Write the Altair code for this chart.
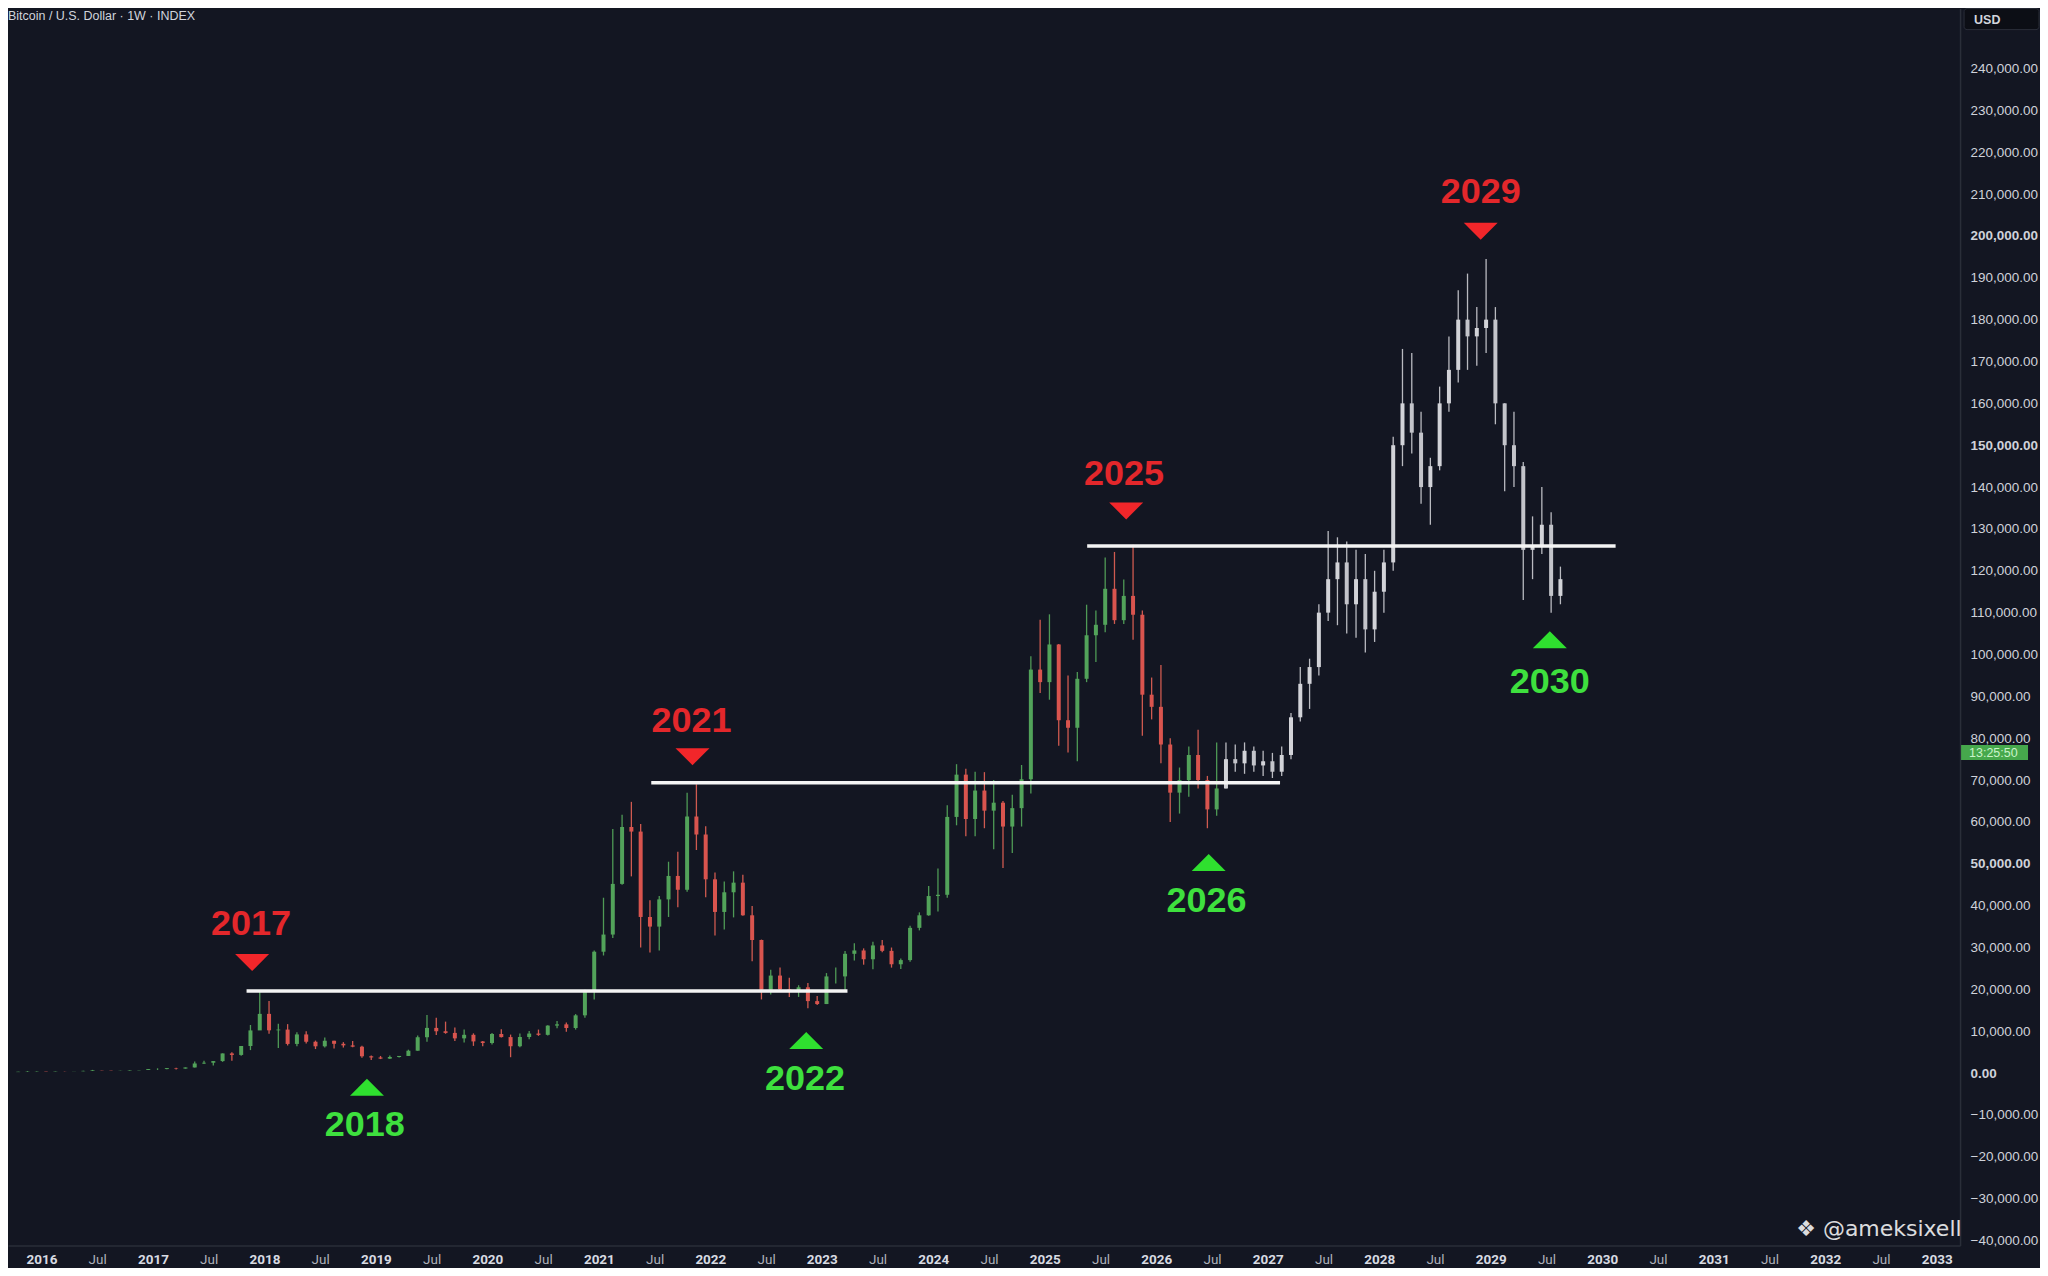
import altair as alt
import pandas as pd

# ---------------- data (monthly candles) ----------------
real_start = "2015-10"
high_real = [
    330, 495, 466,
    460, 440, 440, 466, 545, 770, 700, 627, 625, 720, 755, 980,
    1150, 1200, 1290, 1350, 2760, 2980, 2900, 4700, 4980, 6470, 11500, 19700,
    17200, 11800, 11700, 9750, 9990, 7770, 8500, 7750, 7400, 7680, 6550, 4200,
    4100, 4200, 4100, 5600, 9000, 13900, 13200, 12300, 10900, 10400, 9500, 7700,
    9600, 10500, 9200, 9450, 10070, 10400, 11450, 12470, 12100, 14100, 19900, 29300,
    41900, 58300, 61700, 64800, 59500, 41300, 42300, 50500, 52900, 67000, 69000, 59000,
    47900, 45800, 48200, 47400, 39900, 31900, 24700, 25200, 22800, 21000, 21500, 18400,
    23900, 25200, 29200, 31000, 29800, 31400, 31800, 30000, 27400, 35200, 38400, 44700,
    48900, 64000, 73800, 72700, 72000, 71900, 70000, 65000, 66500, 73600, 99600, 108300,
    109600, 102500, 95000, 95800, 111900, 110500, 123200, 124500, 117900, 126200, 110500, 94500,
    97500, 80000, 73000, 78000, 82000, 71000, 79000,
]
low_real = [
    237, 300, 350,
    355, 365, 400, 415, 435, 530, 600, 535, 570, 605, 690, 745,
    750, 940, 890, 1080, 1350, 2200, 1830, 2700, 2970, 4160, 5500, 10700,
    9400, 6000, 6600, 6430, 7060, 5750, 6100, 5880, 6100, 6200, 3650, 3130,
    3350, 3390, 3700, 4080, 5320, 7500, 9100, 9400, 7700, 7300, 6500, 6430,
    6850, 8500, 3800, 6150, 8100, 8900, 8980, 10700, 9900, 10400, 13200, 17600,
    28100, 32300, 45000, 47000, 30000, 28800, 29300, 37300, 39600, 43300, 53300, 42000,
    32900, 34300, 37200, 37600, 26700, 17600, 18800, 19600, 18200, 18200, 15500, 16300,
    16500, 21400, 19600, 26900, 25900, 24800, 28900, 25200, 24900, 26600, 34100, 37600,
    38600, 41900, 59200, 56600, 56600, 58500, 53500, 49000, 52600, 58900, 66800, 90800,
    89200, 78200, 76600, 74500, 93400, 98200, 105300, 107300, 107300, 103500, 80600, 84500,
    74000, 60000, 62000, 66000, 68000, 58500, 61500,
]
close_real = [
    314, 378, 430,
    369, 436, 416, 448, 531, 673, 624, 575, 609, 700, 745, 964,
    970, 1190, 1080, 1350, 2300, 2480, 2875, 4700, 4340, 6470, 10200, 14150,
    10220, 10400, 6970, 9240, 7490, 6400, 7730, 7000, 6625, 6310, 4020, 3740,
    3460, 3850, 4100, 5350, 8570, 10800, 10000, 9600, 8300, 9150, 7570, 7190,
    9350, 8600, 6420, 8620, 9450, 9140, 11350, 11650, 10780, 13800, 19700, 29000,
    33100, 45200, 58800, 57700, 37300, 35000, 41500, 47100, 43800, 61300, 57000, 46300,
    38500, 43200, 45500, 37700, 31800, 19900, 23300, 20000, 19400, 20500, 17200, 16500,
    23100, 23100, 28500, 29300, 27200, 30500, 29200, 26000, 27000, 34700, 37700, 42300,
    42600, 61200, 71300, 60700, 67500, 62700, 64600, 58900, 63300, 70200, 96400, 93400,
    102400, 84300, 82500, 94200, 104600, 107100, 115700, 108200, 114000, 109500, 90400, 87500,
    78500, 67000, 70000, 76000, 70000, 63000, 68000,
]

proj_start = "2026-08"
high_proj = [
    79000, 78500, 79000, 78000, 77000,
    76500, 78000, 86000, 97000, 99000, 112000, 129500, 128000, 127000, 125000, 124000, 120000,
    125000, 152000, 173000, 172000, 158000, 147000, 164000, 176000, 187000, 191000, 183000, 194500,
    183000, 160000, 158000, 146000, 133000, 140000, 134000, 121000,
]
low_proj = [
    68000, 72000, 71500, 72000, 71000,
    70500, 71000, 75000, 84000, 87000, 95000, 108000, 107000, 105000, 104000, 100500, 103000,
    110000, 120000, 145000, 148000, 136000, 131000, 144000, 158000, 165000, 168000, 169000, 172000,
    155000, 139000, 140000, 113000, 118000, 124000, 110000, 112000,
]
close_proj = [
    75000, 74000, 77000, 73500, 74500,
    72000, 76000, 85000, 93000, 97000, 110000, 118000, 122000, 112000, 118000, 106000, 115000,
    122000, 150000, 160000, 153000, 140000, 145000, 160000, 168000, 180000, 176000, 178000, 180000,
    160000, 150000, 145000, 125000, 126000, 131000, 114000, 118000,
]

# horizontal levels
level_price = [19640, 69350, 125900]
level_from = [2017.84, 2021.47, 2025.38]
level_to = [2023.23, 2027.11, 2030.12]

# cycle annotations
ann_label = ["2017", "2018", "2021", "2022", "2025", "2026", "2029", "2030"]
ann_kind = ["top", "bottom", "top", "bottom", "top", "bottom", "top", "bottom"]
ann_text_x = [2017.88, 2018.90, 2021.83, 2022.85, 2025.71, 2026.45, 2028.91, 2029.53]
ann_text_y = [35500, -12500, 84200, -1500, 143100, 41000, 210600, 93500]
tri_x = [2017.89, 2018.92, 2021.84, 2022.86, 2025.73, 2026.47, 2028.91, 2029.53]
tri_y = [26400, -3400, 75600, 7800, 134300, 50300, 201100, 103500]

y_ticks = list(range(-40000, 240001, 10000))
x_ticks = [2016 + 0.5 * i for i in range(35)]

# ---------------- tables ----------------
def candles(start, highs, lows, closes, first_open, up, down, wick_up, wick_down):
    per = pd.period_range(start=start, periods=len(closes), freq="M")
    t = [p.year + (p.month - 1) / 12 + 1 / 24 for p in per]
    opens = [first_open] + closes[:-1]
    body_c = [up if c >= o else down for o, c in zip(opens, closes)]
    wick_c = [wick_up if c >= o else wick_down for o, c in zip(opens, closes)]
    return pd.DataFrame({"t": t, "o": opens, "h": highs, "l": lows, "c": closes,
                         "bc": body_c, "wc": wick_c})

GREEN = "#52a35a"
RED = "#d9544e"
df_real = candles(real_start, high_real, low_real, close_real, 240, GREEN, RED, "#4f9a56", "#cf5a50")
df_proj = candles(proj_start, high_proj, low_proj, close_proj, close_real[-1],
                  "#d2d3d8", "#c3c4ca", "#b9bac0", "#b9bac0")

df_lv = pd.DataFrame({"p": level_price, "a": level_from, "b": level_to})
df_ann = pd.DataFrame({"lab": ann_label, "kind": ann_kind, "tx": ann_text_x, "ty": ann_text_y,
                       "px": tri_x, "py": tri_y})
df_ann["col"] = ["#e3272b" if k == "top" else "#3ee03e" for k in ann_kind]
one = pd.DataFrame({"a": [0]})

# ---------------- scales / axes ----------------
xs = alt.Scale(domain=[2015.745, 2033.165], nice=False, zero=False)
ys = alt.Scale(domain=[-41160, 254300], nice=False, zero=False)

xaxis = alt.Axis(
    values=x_ticks, title=None, grid=False, ticks=False,
    labelExpr="datum.value % 1 == 0 ? format(datum.value, 'd') : 'Jul'",
    labelFont="Roboto", labelFontSize=13.5, labelPadding=7,
    labelFontWeight={"condition": {"test": "datum.value % 1 == 0", "value": "bold"}, "value": "normal"},
    labelColor={"condition": {"test": "datum.value % 1 == 0", "value": "#d8dbe2"}, "value": "#aeb1ba"},
    labelOverlap=False, labelFlush=False,
    domainColor="#2a2e39", domainWidth=1.5,
)
yaxis = alt.Axis(
    orient="right", values=y_ticks, format=",.2f", title=None, grid=False, ticks=False,
    labelFont="Liberation Sans", labelFontSize=13.5, labelPadding=10, labelAlign="left",
    labelColor="#cfd2da",
    labelFontWeight={"condition": {"test": "indexof([0, 50000, 150000, 200000], datum.value) >= 0",
                                   "value": "bold"}, "value": "normal"},
    labelOverlap=False, labelFlush=False,
    domainColor="#2a2e39", domainWidth=1.5,
)

def X(f):
    return alt.X(f, type="quantitative", scale=xs, axis=xaxis)

def Y(f):
    return alt.Y(f, type="quantitative", scale=ys, axis=yaxis)

# ---------------- layers ----------------
def candle_layers(df):
    wick = alt.Chart(df).mark_rule(strokeWidth=1.3).encode(
        x=X("t"), y=Y("l"), y2="h", color=alt.Color("wc:N", scale=None))
    body = alt.Chart(df).mark_bar(size=4).encode(
        x=X("t"), y=Y("o"), y2="c", color=alt.Color("bc:N", scale=None))
    return [wick, body]

levels = alt.Chart(df_lv).mark_rule(color="#f4f4f4", strokeWidth=3.5).encode(
    x=X("a"), x2="b", y=Y("p"))

DOWN = "M-1,-0.5L1,-0.5L0,0.5Z"
UP = "M-1,0.5L1,0.5L0,-0.5Z"
tri_down = alt.Chart(df_ann[df_ann.kind == "top"]).mark_point(
    shape=DOWN, filled=True, size=1156, color="#f2262a", opacity=1, strokeWidth=0
).encode(x=X("px"), y=Y("py"))
tri_up = alt.Chart(df_ann[df_ann.kind == "bottom"]).mark_point(
    shape=UP, filled=True, size=1156, color="#2fe02f", opacity=1, strokeWidth=0
).encode(x=X("px"), y=Y("py"))
ann_text = alt.Chart(df_ann).mark_text(
    font="Liberation Sans", fontWeight="bold", fontSize=36, align="center", baseline="middle"
).encode(x=X("tx"), y=Y("ty"), text="lab:N", color=alt.Color("col:N", scale=None))

title = alt.Chart(one).mark_text(
    text="Bitcoin / U.S. Dollar · 1W · INDEX", font="Liberation Sans", fontSize=12.5,
    align="left", baseline="middle", color="#d1d4dc"
).encode(x=alt.value(0), y=alt.value(7))

usd_box = alt.Chart(one).mark_rect(
    fill="#0c0e15", stroke="#2a2e39", strokeWidth=1, cornerRadius=3
).encode(x=alt.value(1958), x2=alt.value(2033), y=alt.value(0), y2=alt.value(21))
usd_txt = alt.Chart(one).mark_text(
    text="USD", font="Liberation Sans", fontSize=12.5, fontWeight="bold",
    align="left", baseline="middle", color="#d1d4dc"
).encode(x=alt.value(1968), y=alt.value(11))

tag_box = alt.Chart(one).mark_rect(fill="#46a84c").encode(
    x=alt.value(1955), x2=alt.value(2022), y=alt.value(737), y2=alt.value(752))
tag_txt = alt.Chart(one).mark_text(
    text="13:25:50", font="Liberation Sans", fontSize=12.5, align="left",
    baseline="middle", color="#c9f3c9"
).encode(x=alt.value(1963), y=alt.value(745))

watermark = alt.Chart(one).mark_text(
    text="❖ @ameksixell", font="DejaVu Sans", fontSize=22, align="left",
    baseline="middle", color="#ffffff", opacity=0.85
).encode(x=alt.value(1790), y=alt.value(1222))

layers = (candle_layers(df_real) + candle_layers(df_proj) +
          [levels, tri_down, tri_up, ann_text, title, usd_box, usd_txt, tag_box, tag_txt, watermark])

chart = alt.layer(*layers).properties(
    width=1954, height=1238, background="#131622",
    padding={"left": 0, "top": 0, "right": 80, "bottom": 22},
    autosize=alt.AutoSizeParams(type="none"),
).configure_view(strokeWidth=0)

chart.save("out.html", embed_options={"renderer": "svg", "actions": False})
